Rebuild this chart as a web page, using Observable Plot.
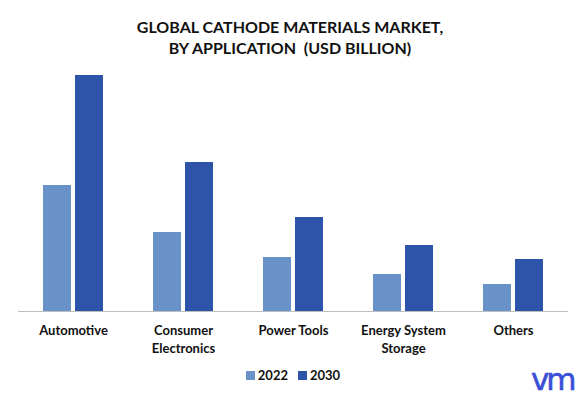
<!DOCTYPE html>
<html>
<head>
<meta charset="utf-8">
<script src="https://cdn.jsdelivr.net/npm/d3@7"></script>
<script src="https://cdn.jsdelivr.net/npm/@observablehq/plot@0.6"></script>
<style>
  html, body { margin: 0; padding: 0; background: #fff; }
  body { width: 586px; height: 396px; position: relative; overflow: hidden; font-family: Lato, "Open Sans", sans-serif; }
  #title { position: absolute; left: 0; top: 16px; width: 586px; text-align: center; font-weight: bold; font-size: 16px; line-height: 21px; color: #111; padding-right: 6px; box-sizing: border-box; }
  #chart { position: absolute; left: 0; top: 60px; }
  #legend { position: absolute; left: 0; top: 367px; width: 586px; display: flex; justify-content: center; align-items: center; font-weight: bold; font-size: 13px; color: #111; }
  .sw { display: inline-block; width: 9px; height: 9px; margin-right: 3px; }
  .item { display: flex; align-items: center; margin: 0 5px; }
  #logo { position: absolute; left: 531px; top: 361px; font-size: 31px; color: #3b4fd6; font-family: "DejaVu Sans", sans-serif; letter-spacing: -3px; -webkit-text-stroke: 0.6px #3b4fd6; }
</style>
</head>
<body>
<div id="title">GLOBAL CATHODE MATERIALS MARKET,<br>BY APPLICATION&nbsp; (USD BILLION)</div>
<div id="chart"></div>
<div id="legend"></div>
<div id="logo">vm</div>
<script>
const categories = ["Automotive", "Consumer Electronics", "Power Tools", "Energy System Storage", "Others"];
const tickLabels = ["Automotive", "Consumer\nElectronics", "Power Tools", "Energy System\nStorage", "Others"];
const years = ["2022", "2030"];
const values2022 = [12.6, 7.9, 5.4, 3.7, 2.7];
const values2030 = [23.6, 14.9, 9.4, 6.6, 5.2];
const colors = ["#6892c8", "#2e54a9"];

const table = [];
categories.forEach((c, i) => {
  table.push({category: c, year: years[0], value: values2022[i]});
  table.push({category: c, year: years[1], value: values2030[i]});
});

const chart = Plot.plot({
  width: 586,
  height: 300,
  marginLeft: 17,
  marginRight: 17,
  marginTop: 1,
  marginBottom: 49,
  style: {fontFamily: "Lato, 'Open Sans', sans-serif", background: "transparent"},
  fx: {domain: categories, padding: 0, label: null},
  x: {domain: years, paddingInner: 0.12, paddingOuter: 0.76, axis: null},
  y: {domain: [0, 25], axis: null},
  color: {domain: years, range: colors},
  marks: [
    Plot.barY(table, {fx: "category", x: "year", y: "value", fill: "year"}),
    Plot.ruleY([0], {stroke: "#bdbdbd", strokeWidth: 1}),
    Plot.axisFx({
      anchor: "bottom",
      tickSize: 0,
      tickPadding: 11,
      fontSize: 13,
      fontWeight: "bold",
      fill: "#111",
      lineHeight: 1.38,
      label: null,
      tickFormat: d => tickLabels[categories.indexOf(d)]
    })
  ]
});
document.getElementById("chart").appendChild(chart);

const legend = document.getElementById("legend");
years.forEach((y, i) => {
  const item = document.createElement("div");
  item.className = "item";
  item.innerHTML = `<span class="sw" style="background:${colors[i]}"></span><span>${y}</span>`;
  legend.appendChild(item);
});
</script>
</body>
</html>
